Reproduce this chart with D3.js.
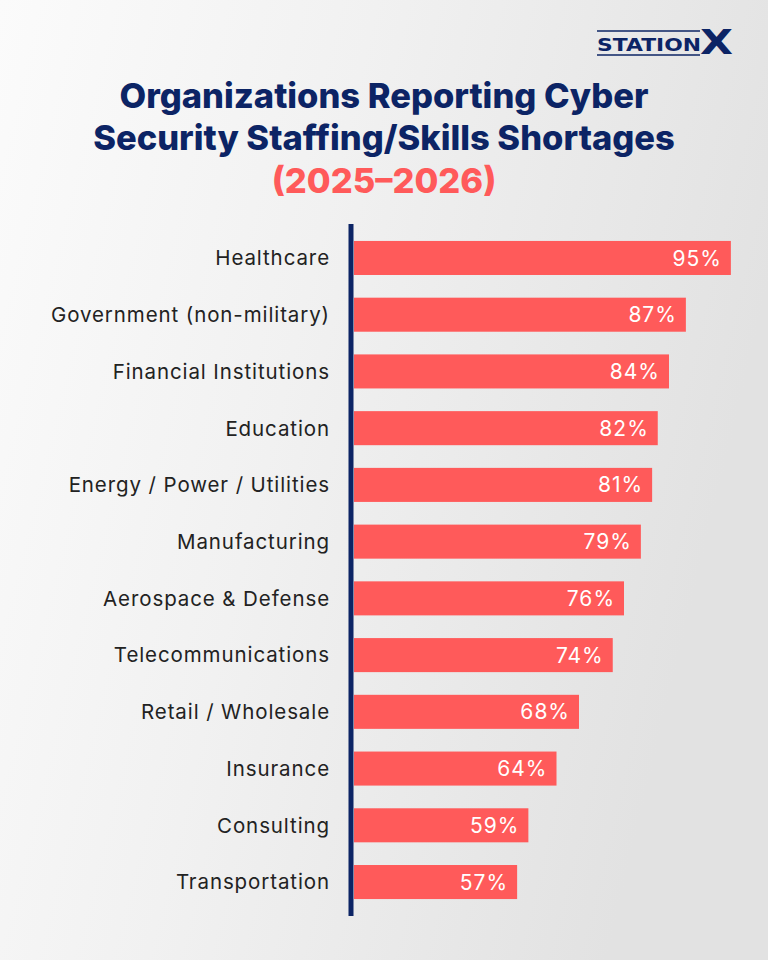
<!DOCTYPE html>
<html>
<head>
<meta charset="utf-8">
<script src="https://cdn.jsdelivr.net/npm/d3@7"></script>
<style>
  html, body { margin: 0; padding: 0; }
  body { width: 768px; height: 960px; overflow: hidden; }
</style>
</head>
<body>
<div class="chart-div"></div>
<script>
var width = 768;
var height = 960;

// data
var categories = ["Healthcare", "Government (non-military)", "Financial Institutions", "Education",
    "Energy / Power / Utilities", "Manufacturing", "Aerospace & Defense", "Telecommunications",
    "Retail / Wholesale", "Insurance", "Consulting", "Transportation"];
var values = [95, 87, 84, 82, 81, 79, 76, 74, 68, 64, 59, 57];
var titleLines = ["Organizations Reporting Cyber", "Security Staffing/Skills Shortages"];
var subtitle = "(2025\u20132026)";

var navy = "#0c2465";
var red = "#ff5a5a";
var font = "Inter, 'Open Sans', sans-serif";

var svg = d3.select("div.chart-div")
    .append("svg")
    .attr("width", width)
    .attr("height", height);

// background
var defs = svg.append("defs");
var grad = defs.append("linearGradient")
    .attr("id", "bg")
    .attr("x1", "0%").attr("y1", "0%")
    .attr("x2", "100%").attr("y2", "30%");
grad.append("stop").attr("offset", "0%").attr("stop-color", "#fbfbfb");
grad.append("stop").attr("offset", "45%").attr("stop-color", "#f1f1f1");
grad.append("stop").attr("offset", "100%").attr("stop-color", "#e2e2e2");

svg.append("rect")
    .attr("width", width)
    .attr("height", height)
    .attr("fill", "url(#bg)");

// logo
var logo = svg.append("g");
logo.append("text")
    .attr("x", 597)
    .attr("y", 51)
    .text("STATION")
    .attr("font-family", "'DejaVu Sans', sans-serif")
    .attr("font-weight", "bold")
    .attr("font-size", 17)
    .attr("textLength", 104)
    .attr("lengthAdjust", "spacingAndGlyphs")
    .style("fill", navy);
logo.append("line")
    .attr("x1", 597).attr("x2", 700)
    .attr("y1", 31).attr("y2", 31)
    .attr("stroke", navy).attr("stroke-width", 1.6);
logo.append("line")
    .attr("x1", 597).attr("x2", 700)
    .attr("y1", 55).attr("y2", 55)
    .attr("stroke", navy).attr("stroke-width", 1.6);
logo.append("text")
    .attr("x", 700)
    .attr("y", 54)
    .text("X")
    .attr("font-family", "'DejaVu Sans', sans-serif")
    .attr("font-weight", "bold")
    .attr("font-size", 33)
    .attr("textLength", 33)
    .attr("lengthAdjust", "spacingAndGlyphs")
    .style("fill", navy);

// title
svg.selectAll("text.title")
    .data(titleLines)
    .enter()
    .append("text")
    .attr("class", "title")
    .attr("x", 384)
    .attr("y", function (d, i) { return 108 + i * 42; })
    .text(function (d) { return d; })
    .attr("font-family", font)
    .attr("font-weight", 800)
    .attr("font-size", 34.5)
    .attr("text-anchor", "middle")
    .style("fill", navy);

svg.append("text")
    .attr("x", 384)
    .attr("y", 193)
    .text(subtitle)
    .attr("font-family", font)
    .attr("font-weight", 800)
    .attr("font-size", 34.5)
    .attr("text-anchor", "middle")
    .style("fill", red);

// scales
var x = d3.scaleLinear()
    .domain([28, 100])
    .range([354, 759]);

var y = d3.scaleBand()
    .domain(categories)
    .range([229.6, 910.4])
    .paddingInner(0.4)
    .paddingOuter(0.2);

var g = svg.append("g");

g.selectAll("rect.bar")
    .data(values)
    .enter()
    .append("rect")
    .attr("class", "bar")
    .attr("x", x(28))
    .attr("y", function (d, i) { return y(categories[i]); })
    .attr("width", function (d) { return x(d) - x(28); })
    .attr("height", y.bandwidth())
    .attr("fill", red);

g.selectAll("text.val")
    .data(values)
    .enter()
    .append("text")
    .attr("class", "val")
    .attr("x", function (d) { return x(d) - 9; })
    .attr("y", function (d, i) { return y(categories[i]) + y.bandwidth() / 2; })
    .attr("dy", "0.36em")
    .text(function (d) { return d + "%"; })
    .attr("font-family", font)
    .attr("font-weight", 400)
    .attr("font-size", 21)
    .attr("letter-spacing", 1)
    .attr("text-anchor", "end")
    .style("fill", "#fff");

g.selectAll("text.cat")
    .data(categories)
    .enter()
    .append("text")
    .attr("class", "cat")
    .attr("x", 330)
    .attr("y", function (d) { return y(d) + y.bandwidth() / 2; })
    .attr("dy", "0.36em")
    .text(function (d) { return d; })
    .attr("font-family", font)
    .attr("font-size", 20.5)
    .attr("letter-spacing", 0.9)
    .attr("text-anchor", "end")
    .style("fill", "#222");

// axis line
g.append("line")
    .attr("x1", 351).attr("x2", 351)
    .attr("y1", 224).attr("y2", 916)
    .attr("stroke", navy)
    .attr("stroke-width", 5);
</script>
</body>
</html>
